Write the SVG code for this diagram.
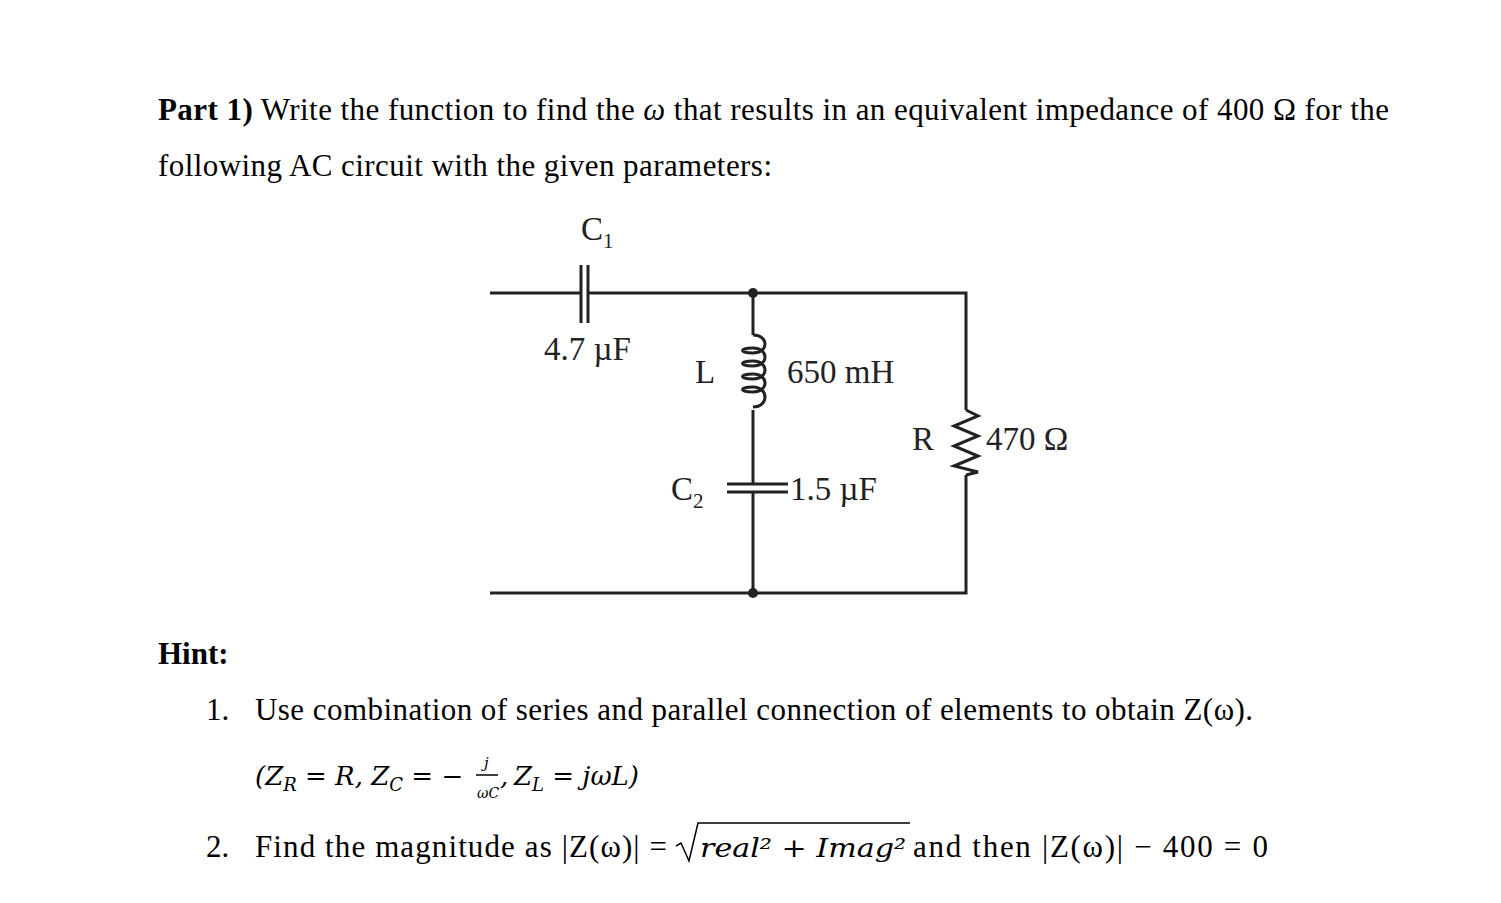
<svg xmlns="http://www.w3.org/2000/svg" width="1501" height="903" viewBox="0 0 1501 903">
<style>
text{font-family:"Liberation Serif","Times New Roman",serif;fill:#000}
.t{font-size:31px}
.c{font-size:33px;fill:#222}
.m{font-style:italic;font-family:"DejaVu Serif","Liberation Serif",serif;font-size:26px}
.w{stroke:#222;stroke-width:3;fill:none}
</style>
<rect width="1501" height="903" fill="#fff"/>
<text class="t" x="158" y="120" textLength="1231" lengthAdjust="spacing"><tspan font-weight="bold">Part 1)</tspan> Write the function to find the <tspan font-style="italic">ω</tspan> that results in an equivalent impedance of 400 Ω for the</text>
<text class="t" x="158" y="176" textLength="614" lengthAdjust="spacing">following AC circuit with the given parameters:</text>
<g id="connectors">
<path class="w" d="M490 293H581M588 293H966V410M966 475V593H490"/>
<path class="w" d="M753 293V335M753 410V484M753 492V593"/>
</g>
<g id="C1"><path class="w" d="M581 265V323M588 265V323"/><text class="c" x="581" y="240">C<tspan font-size="21" dy="8">1</tspan></text><text class="c" x="544" y="360">4.7 µF</text></g>
<g id="L"><path class="w" d="M753 335c16 0 16 18 0 18c-14 0-14-5 0-5c16 0 16 18 0 18c-14 0-14-5 0-5c16 0 16 18 0 18c-14 0-14-5 0-5c16 0 16 18 0 18c-14 0-14-5 0-5c16 0 16 20 0 20"/><text class="c" x="695" y="383">L</text><text class="c" x="787" y="383">650 mH</text></g>
<g id="C2"><path class="w" d="M727 484H788M727 492H788"/><text class="c" x="671" y="500">C<tspan font-size="21" dy="8">2</tspan></text><text class="c" x="790" y="500">1.5 µF</text></g>
<g id="R"><path class="w" d="M966 410L978 416L954 426L978 436L954 446L978 456L954 466L978 472L966 475"/><text class="c" x="912" y="450">R</text><text class="c" x="986" y="450">470 Ω</text></g>
<g id="nodes"><circle cx="753" cy="293" r="5" fill="#222"/><circle cx="753" cy="593" r="5" fill="#222"/></g>
<text class="t" x="158" y="664" font-weight="bold">Hint:</text>
<text class="t" x="206" y="720">1.</text>
<text class="t" x="255" y="720" textLength="998" lengthAdjust="spacing">Use combination of series and parallel connection of elements to obtain Z(ω).</text>
<text class="m" x="255" y="785">(Z<tspan font-size="18" dy="6">R</tspan><tspan dy="-6"> = R, Z</tspan><tspan font-size="18" dy="6">C</tspan><tspan dy="-6"> = −</tspan></text>
<text class="m" x="484" y="768" style="font-size:15px">j</text>
<line x1="476" y1="775" x2="498" y2="775" stroke="#000" stroke-width="1.5"/>
<text class="m" x="477" y="798" style="font-size:14px">ωC</text>
<text class="m" x="500" y="785">,</text>
<text class="m" x="514" y="785">Z<tspan font-size="18" dy="6">L</tspan><tspan dy="-6"> = jωL)</tspan></text>
<text class="t" x="206" y="857">2.</text>
<text class="t" x="255" y="857" textLength="412" lengthAdjust="spacing">Find the magnitude as |Z(ω)| =</text>
<path d="M676 846l5-3 8 18 9-38h212" stroke="#000" stroke-width="1.5" fill="none"/>
<text class="m" x="700" y="857" textLength="206" lengthAdjust="spacingAndGlyphs">real² + Imag²</text>
<text class="t" x="913" y="857" textLength="355" lengthAdjust="spacing">and then |Z(ω)| − 400 = 0</text>
</svg>
